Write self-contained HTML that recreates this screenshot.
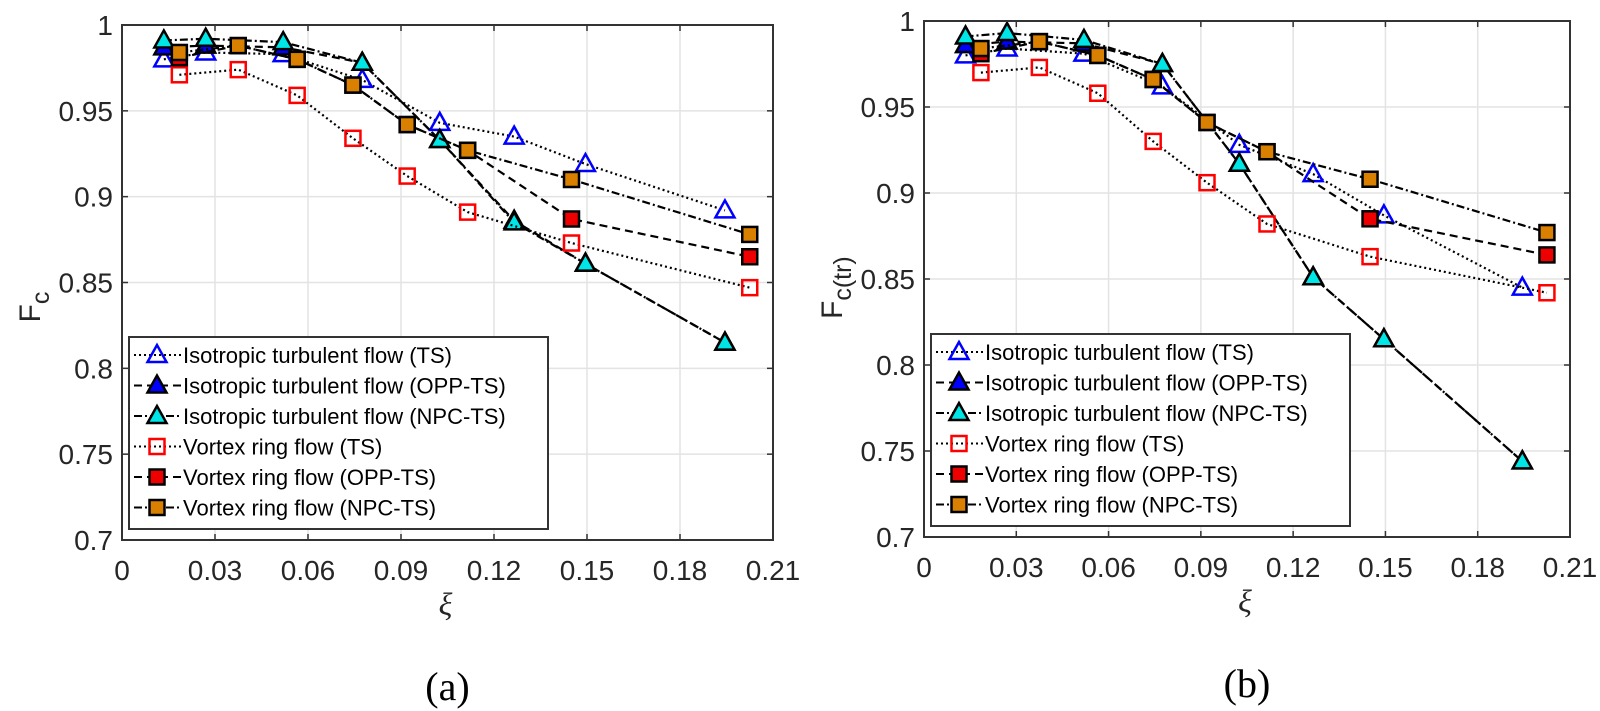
<!DOCTYPE html>
<html><head><meta charset="utf-8"><style>
html,body{margin:0;padding:0;background:#fff;}
svg{display:block;}
text{font-family:"Liberation Sans",Arial,sans-serif;fill:#262626;}
</style></head><body>
<svg id="s" width="1600" height="711" xmlns="http://www.w3.org/2000/svg"></svg>
<script>
const S=document.getElementById('s');let h='';
const panels=[
 {L:122,R:773,T:25,B:540,lab:'(a)',sub:'c',leg:[129,337],data:[
  [[.0135,.980],[.027,.984],[.052,.983],[.0775,.968],[.1025,.943],[.1265,.935],[.1495,.919],[.1945,.892]],
  [[.0135,.987],[.027,.988],[.052,.987],[.0775,.978],[.1025,.933],[.1265,.886],[.1495,.861],[.1945,.815]],
  [[.0135,.991],[.027,.992],[.052,.990],[.0775,.978],[.1025,.933],[.1265,.885],[.1495,.861],[.1945,.815]],
  [[.0185,.971],[.0375,.974],[.0565,.959],[.0745,.934],[.092,.912],[.1115,.891],[.145,.873],[.2025,.847]],
  [[.0185,.981],[.0375,.988],[.0565,.980],[.0745,.965],[.092,.942],[.1115,.927],[.145,.887],[.2025,.865]],
  [[.0185,.984],[.0375,.988],[.0565,.980],[.0745,.965],[.092,.942],[.1115,.927],[.145,.910],[.2025,.878]]]},
 {L:924,R:1570,T:21,B:537,lab:'(b)',sub:'c(tr)',leg:[931,334],data:[
  [[.0135,.980],[.027,.984],[.052,.981],[.0775,.962],[.1025,.928],[.1265,.911],[.1495,.887],[.1945,.845]],
  [[.0135,.986],[.027,.988],[.052,.987],[.0775,.975],[.1025,.917],[.1265,.851],[.1495,.815],[.1945,.744]],
  [[.0135,.991],[.027,.993],[.052,.989],[.0775,.975],[.1025,.917],[.1265,.851],[.1495,.815],[.1945,.744]],
  [[.0185,.970],[.0375,.973],[.0565,.958],[.0745,.930],[.092,.906],[.1115,.882],[.145,.863],[.2025,.842]],
  [[.0185,.981],[.0375,.988],[.0565,.980],[.0745,.966],[.092,.941],[.1115,.924],[.145,.885],[.2025,.864]],
  [[.0185,.984],[.0375,.988],[.0565,.980],[.0745,.966],[.092,.941],[.1115,.924],[.145,.908],[.2025,.877]]]}
];
const sty=[
 {d:'2,3',m:'tri',f:'none',s:'#0000ff'},
 {d:'8,5',m:'tri',f:'#0000ff',s:'#000'},
 {d:'8,3,2,3',m:'tri',f:'#00e5e5',s:'#000'},
 {d:'2,3',m:'sq',f:'none',s:'#ff0000'},
 {d:'8,5',m:'sq',f:'#ee0000',s:'#000'},
 {d:'8,3,2,3',m:'sq',f:'#d98000',s:'#000'}];
const names=['Isotropic turbulent flow (TS)','Isotropic turbulent flow (OPP-TS)','Isotropic turbulent flow (NPC-TS)','Vortex ring flow (TS)','Vortex ring flow (OPP-TS)','Vortex ring flow (NPC-TS)'];
function mk(st,x,y){
 if(st.m=='tri') return `<polygon points="${x},${y-10} ${x-9.5},${y+7} ${x+9.5},${y+7}" fill="${st.f}" stroke="${st.s}" stroke-width="2.5" stroke-linejoin="miter"/>`;
 return `<rect x="${x-7.5}" y="${y-7.5}" width="15" height="15" fill="${st.f}" stroke="${st.s}" stroke-width="2.5"/>`;
}
for(const p of panels){
 const X=v=>p.L+v/0.21*(p.R-p.L), Y=v=>p.T+(1-v)/0.3*(p.B-p.T);
 for(let i=1;i<7;i++){const x=X(i*0.03);h+=`<line x1="${x}" y1="${p.T}" x2="${x}" y2="${p.B}" stroke="#e3e3e3" stroke-width="1.5"/>`;}
 for(let i=1;i<6;i++){const y=Y(0.7+i*0.05);h+=`<line x1="${p.L}" y1="${y}" x2="${p.R}" y2="${y}" stroke="#e3e3e3" stroke-width="1.5"/>`;}
 for(let i=0;i<=7;i++){const x=X(i*0.03);
  h+=`<line x1="${x}" y1="${p.B}" x2="${x}" y2="${p.B-6}" stroke="#333" stroke-width="1.5"/><line x1="${x}" y1="${p.T}" x2="${x}" y2="${p.T+6}" stroke="#333" stroke-width="1.5"/>`;
  h+=`<text x="${x}" y="${p.B+40}" font-size="28" text-anchor="middle">${i==0?'0':(i*0.03).toFixed(2)}</text>`;}
 const yl=['0.7','0.75','0.8','0.85','0.9','0.95','1'];
 for(let i=0;i<=6;i++){const y=Y(0.7+i*0.05);
  h+=`<line x1="${p.L}" y1="${y}" x2="${p.L+6}" y2="${y}" stroke="#333" stroke-width="1.5"/><line x1="${p.R}" y1="${y}" x2="${p.R-6}" y2="${y}" stroke="#333" stroke-width="1.5"/>`;
  h+=`<text x="${p.L-9}" y="${y+10}" font-size="28" text-anchor="end">${yl[i]}</text>`;}
 p.data.forEach((d,k)=>{const st=sty[k];
  h+=`<polyline points="${d.map(q=>X(q[0])+','+Y(q[1])).join(' ')}" fill="none" stroke="#000" stroke-width="2.2" stroke-dasharray="${st.d}"/>`;
  d.forEach(q=>h+=mk(st,X(q[0]),Y(q[1])));});
 h+=`<rect x="${p.L}" y="${p.T}" width="${p.R-p.L}" height="${p.B-p.T}" fill="none" stroke="#333" stroke-width="2"/>`;
 const lx=p.leg[0],ly=p.leg[1];
 h+=`<rect x="${lx}" y="${ly}" width="419" height="192" fill="#fff" stroke="#333" stroke-width="2"/>`;
 for(let k=0;k<6;k++){const y=ly+18+k*30.5,st=sty[k];
  h+=`<line x1="${lx+5}" y1="${y}" x2="${lx+52}" y2="${y}" stroke="#000" stroke-width="2" stroke-dasharray="${st.d}"/>`+mk(st,lx+28,y);
  h+=`<text x="${lx+54}" y="${y+8}" font-size="22" style="fill:#000">${names[k]}</text>`;}
 const cx=(p.L+p.R)/2;
 h+=`<text x="${cx-2}" y="${p.B+75}" text-anchor="middle" style="font-family:'Liberation Serif',serif;font-style:italic;font-size:32px">ξ</text>`;
 h+=`<text x="${cx}" y="${p.B+160}" text-anchor="middle" style="font-family:'Liberation Serif',serif;font-size:40px;fill:#000">${p.lab}</text>`;
 const ym=(p.T+p.B)/2+40;
 h+=`<text transform="translate(${p.L-82},${ym}) rotate(-90)" font-size="30">F<tspan font-size="25" dy="9">${p.sub}</tspan></text>`;
}
S.innerHTML=h;
</script>
</body></html>
